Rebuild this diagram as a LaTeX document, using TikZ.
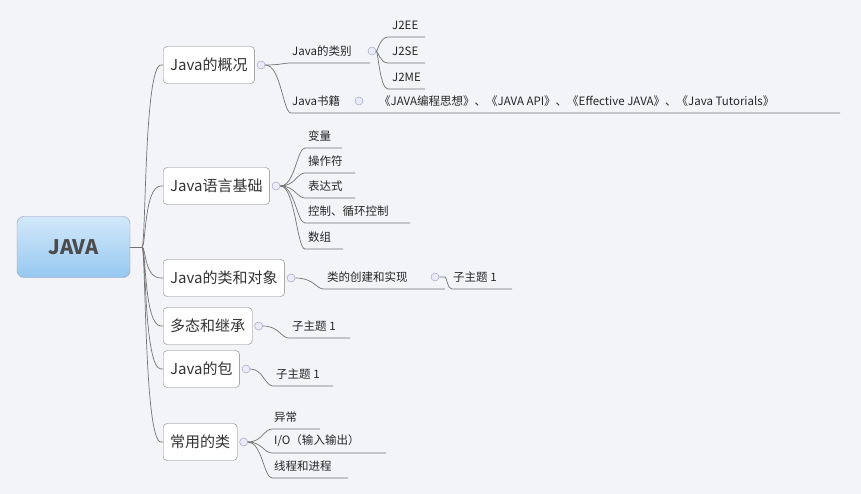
\documentclass[tikz,border=0pt]{standalone}
\usepackage{fontspec}
\setmainfont{Noto Sans CJK SC}
\begin{document}
\begin{tikzpicture}[x=1pt,y=-1pt,
  ln/.style={draw=black!55,line width=0.7pt},
  top/.style={draw=black!50,fill=white,rounded corners=4pt,minimum height=37pt,inner xsep=7pt,font=\fontsize{15}{16}\selectfont,text=black!80},
  sub/.style={anchor=west,inner sep=1pt,font=\fontsize{11.5}{12}\selectfont,text=black!85},
  tog/.style={circle,draw=blue!30!black!35,fill=blue!8,minimum size=8pt,inner sep=0pt,line width=0.5pt}]
\useasboundingbox[fill={rgb,255:red,243;green,244;blue,247}] (0,0) rectangle (861,494);
% root
\node[draw=blue!40!black!40,rounded corners=7pt,top color={rgb,255:red,210;green,232;blue,250},bottom color={rgb,255:red,150;green,200;blue,240},minimum width=113pt,minimum height=61pt,font=\fontsize{20}{22}\selectfont\bfseries,text=black!70] (root) at (73.5,247) {JAVA};
\coordinate (rs) at (142,247);
\draw[ln] (root.east) -- (rs);
% first level
\node[top,anchor=west] (a) at (163,65) {Java的概况};
\node[top,anchor=west] (b) at (163,186) {Java语言基础};
\node[top,anchor=west] (c) at (163,278) {Java的类和对象};
\node[top,anchor=west] (d) at (163,326) {多态和继承};
\node[top,anchor=west] (e) at (163,369) {Java的包};
\node[top,anchor=west] (f) at (163,442) {常用的类};
\foreach \n in {a,b,c,d,e,f}{
  \draw[ln] (rs) .. controls (146,247) and (144,0|-\n.west) .. ([xshift=-2pt]\n.west) -- (\n.west);
  \node[tog,anchor=west] (\n t) at ([xshift=2pt]\n.east) {};
}
% generic sub-branch macro: parent toggle, spine x, text x, y, underline end, name, text
\newcommand\subbr[7]{%
  \node[sub] (#6) at (#3,#4) {#7};
  \draw[ln] (#1.east) .. controls (#2-2,0|-#1.east) and (#2,#4+12) .. (#2+8,#4+12) -- (#5,#4+12);
}
% Java的概况
\subbr{at}{283}{291}{51}{370}{a1}{Java的类别}
\subbr{at}{283}{291}{101}{840}{a2}{Java书籍}
\node[tog] (a1t) at (372,51) {};
\node[tog] (a2t) at (359,101) {};
\node[sub] at (378,101) {《JAVA编程思想》、《JAVA API》、《Effective JAVA》、《Java Tutorials》};
\subbr{a1t}{380}{391}{25}{425}{a11}{J2EE}
\subbr{a1t}{380}{391}{51}{425}{a12}{J2SE}
\subbr{a1t}{380}{391}{77}{425}{a13}{J2ME}
% Java语言基础
\subbr{bt}{297}{307}{136}{342}{b1}{变量}
\subbr{bt}{297}{307}{161}{355}{b2}{操作符}
\subbr{bt}{297}{307}{186}{355}{b3}{表达式}
\subbr{bt}{297}{307}{211}{410}{b4}{控制、循环控制}
\subbr{bt}{297}{307}{237}{343}{b5}{数组}
% Java的类和对象
\subbr{ct}{316}{326}{277}{445}{c1}{类的创建和实现}
\node[tog] (c1t) at (435,277) {};
\draw[ln] (c1t.east) -- (445,277) .. controls (447,277) and (447,289) .. (452,289) -- (512,289);
\node[sub] (c11) at (452,277) {子主题 1};
% others
\subbr{dt}{281}{291}{326}{350}{d1}{子主题 1}
\subbr{et}{265}{275}{374}{333}{e1}{子主题 1}
\subbr{ft}{264}{273}{417}{320}{f1}{异常}
\subbr{ft}{264}{273}{441}{386}{f2}{I/O（输入输出）}
\subbr{ft}{264}{273}{466}{348}{f3}{线程和进程}
\end{tikzpicture}
\end{document}
